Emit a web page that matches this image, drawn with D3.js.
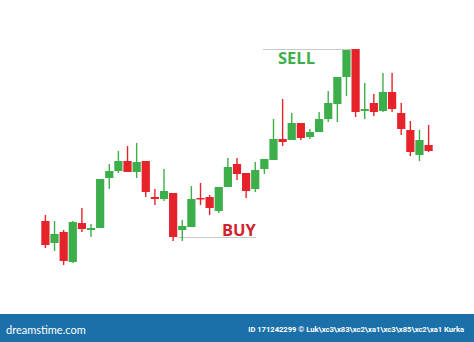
<!DOCTYPE html>
<html>
<head>
<meta charset="utf-8">
<script src="https://cdn.jsdelivr.net/npm/d3@7"></script>
<style>
  body { margin: 0; background: #fff; }
  svg { display: block; }
</style>
</head>
<body>
<script>
// candle data (arbitrary price units)
var days = d3.range(1, 44);
var open  = [79, 57, 68, 38, 77, 70, 72, 122, 129, 139, 128, 139, 103, 101, 107, 70, 73, 102, 103, 89, 113, 136, 127, 111, 131, 140, 161, 160, 177, 163, 168, 181, 196, 223, 251, 189, 197, 189, 208, 187, 170, 145, 155];
var close = [55, 66, 39, 78, 71, 72, 121, 129, 139, 128, 138, 108, 101, 109, 63, 74, 101, 101, 92, 113, 133, 126, 109, 130, 141, 161, 158, 177, 162, 168, 181, 197, 223, 250, 188, 191, 188, 208, 191, 171, 148, 160, 149];
var high  = [85, 79, 70, 79, 92, 76, 121, 136, 149, 154, 157, 139, 111, 131, 107, 80, 114, 117, 105, 113, 142, 142, 127, 138, 141, 181, 201, 187, 177, 171, 188, 209, 223, 250, 251, 217, 206, 227, 227, 197, 179, 170, 175];
var low   = [52, 49, 35, 37, 68, 63, 72, 111, 127, 128, 122, 103, 95, 99, 59, 59, 73, 95, 85, 87, 113, 120, 102, 108, 126, 140, 154, 160, 160, 161, 168, 178, 178, 204, 183, 181, 184, 188, 188, 165, 144, 139, 148];

var w = 474;
var h = 342;
var green = "#3daf4a";
var red = "#e6232a";

var data = days.map(function (d, i) {
    return { day: d, o: open[i], c: close[i], hi: high[i], lo: low[i] };
});

var svg = d3.select("body")
    .append("svg")
    .attr("width", w)
    .attr("height", h);

var xScale = d3.scaleBand()
    .domain(days)
    .range([40.4, 433.6])
    .padding(0.1);

var yScale = d3.scaleLinear()
    .domain([30, 260])
    .range([270, 40]);

var col = function (d) { return d.c >= d.o ? green : red; };

// annotation lines
svg.append("line")
    .attr("x1", 263).attr("x2", xScale(35))
    .attr("y1", yScale(251) + 0.5).attr("y2", yScale(251) + 0.5)
    .attr("stroke", "#c8c8c8").attr("stroke-width", 1);
svg.append("line")
    .attr("x1", xScale(16)).attr("x2", 256)
    .attr("y1", yScale(63) + 0.5).attr("y2", yScale(63) + 0.5)
    .attr("stroke", "#c8c8c8").attr("stroke-width", 1);

// wicks
svg.selectAll("line.wick")
    .data(data)
    .enter()
    .append("line")
    .attr("class", "wick")
    .attr("x1", function (d) { return xScale(d.day) + xScale.bandwidth() / 2; })
    .attr("x2", function (d) { return xScale(d.day) + xScale.bandwidth() / 2; })
    .attr("y1", function (d) { return yScale(d.hi); })
    .attr("y2", function (d) { return yScale(d.lo); })
    .attr("stroke", col)
    .attr("stroke-width", 1.4);

// bodies
svg.selectAll("rect.body")
    .data(data)
    .enter()
    .append("rect")
    .attr("class", "body")
    .attr("x", function (d) { return xScale(d.day); })
    .attr("width", xScale.bandwidth())
    .attr("y", function (d) { return yScale(Math.max(d.o, d.c)); })
    .attr("height", function (d) { return Math.max(1.5, Math.abs(yScale(d.o) - yScale(d.c))); })
    .attr("fill", col);

// labels
svg.append("text")
    .attr("x", 278).attr("y", 64)
    .attr("font-family", "Open Sans, sans-serif")
    .attr("font-weight", "bold")
    .attr("font-size", "16.5px")
    .attr("fill", green)
    .text("SELL");
svg.append("text")
    .attr("x", 222).attr("y", 236)
    .attr("font-family", "Open Sans, sans-serif")
    .attr("font-weight", "bold")
    .attr("font-size", "16.5px")
    .attr("fill", "#d1232b")
    .text("BUY");

// footer bar
svg.append("rect")
    .attr("x", 0).attr("y", 314)
    .attr("width", w).attr("height", h - 314)
    .attr("fill", "#1b70a9");
svg.append("text")
    .attr("x", 6).attr("y", 334)
    .attr("font-family", "Lato, sans-serif")
    .attr("font-size", "11px")
    .attr("fill", "#fff")
    .text("dreamstime.com");
svg.append("text")
    .attr("x", 464).attr("y", 332)
    .attr("text-anchor", "end")
    .attr("font-family", "Roboto, sans-serif")
    .attr("font-weight", "bold")
    .attr("font-size", "7.6px")
    .attr("fill", "#fff")
    .text("ID 171242299 \u00a9 Luk\\xc3\\x83\\xc2\\xa1\\xc3\\x85\\xc2\\xa1 Kurka");
</script>
</body>
</html>
